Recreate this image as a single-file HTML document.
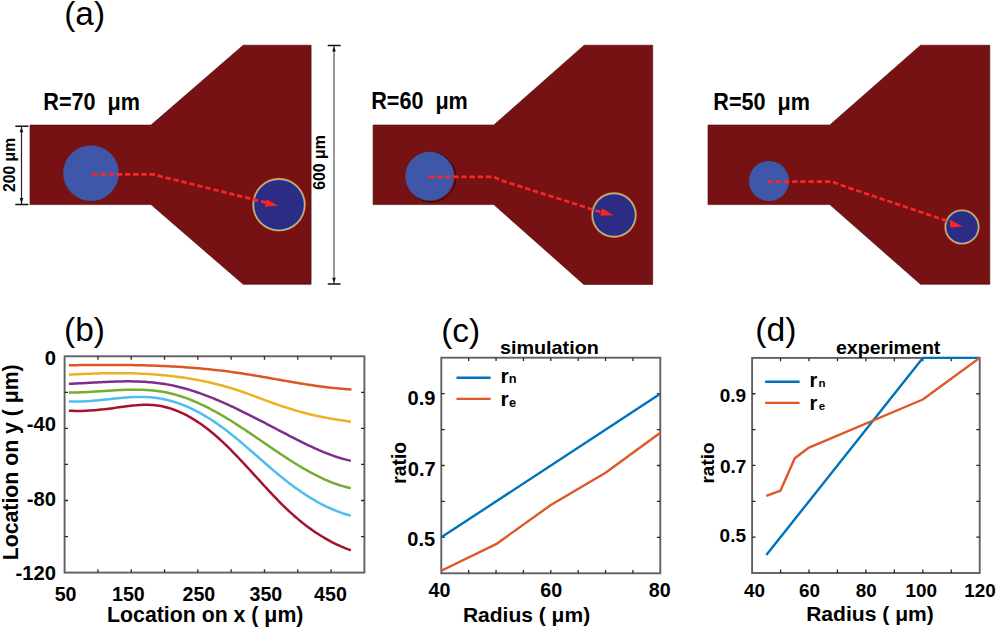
<!DOCTYPE html>
<html><head><meta charset="utf-8"><style>
html,body{margin:0;padding:0;background:#fff;overflow:hidden;width:998px;height:627px;}
svg{display:block;font-family:"Liberation Sans",sans-serif;}
</style></head><body>
<svg width="998" height="627" viewBox="0 0 998 627">
<rect width="998" height="627" fill="#fff"/>
<text x="64.20" y="25.20" font-size="33.4" font-weight="normal" fill="#000" >(a)</text>
<polygon points="30.0,125.1 151,125.1 243.2,45.2 311.1,45.2 311.1,284.3 243.2,284.3 151,204.6 30.0,204.6" fill="#761214" stroke="#4a0c0e" stroke-width="0.9" stroke-opacity="0.7"/>
<circle cx="91" cy="173.2" r="27.8" fill="#3e57a8"/>
<circle cx="279" cy="204.7" r="26.9" fill="#d8602c"/>
<circle cx="279" cy="204.7" r="26.2" fill="#e6c04a"/>
<circle cx="279" cy="204.7" r="25.5" fill="#62b8d8"/>
<circle cx="279" cy="204.7" r="24.8" fill="#2c2c84"/>
<path d="M92.20,174.40 L152.00,174.40 L156.00,174.80 L160.00,176.20 L267.00,202.80" fill="none" stroke="#ff2424" stroke-width="2.7" stroke-dasharray="5.3 2.9"/>
<polygon points="278.00,205.60 265.01,206.72 266.59,199.28" fill="#ff2424"/>
<polygon points="373.1,125.0 493.8,125.0 584.2,45.2 652.7,45.2 652.7,284.4 583.8,284.4 493.8,204.6 373.1,204.6" fill="#761214" stroke="#4a0c0e" stroke-width="0.9" stroke-opacity="0.7"/>
<circle cx="431.4" cy="177.4" r="24.5" fill="none" stroke="#1c0606" stroke-width="1" opacity="0.85"/>
<circle cx="429.6" cy="176.2" r="24.4" fill="#3e57a8"/>
<circle cx="614" cy="215" r="22.9" fill="#d8602c"/>
<circle cx="614" cy="215" r="22.2" fill="#e6c04a"/>
<circle cx="614" cy="215" r="21.5" fill="#62b8d8"/>
<circle cx="614" cy="215" r="20.8" fill="#2c2c84"/>
<path d="M428.60,176.80 L491.60,176.80 L495.20,177.60 L500.00,180.00 L601.00,212.20" fill="none" stroke="#ff2424" stroke-width="2.7" stroke-dasharray="5.3 2.9"/>
<polygon points="613.30,215.20 600.23,215.67 602.17,208.33" fill="#ff2424"/>
<polygon points="708.0,125.0 829.8,125.0 920.6,45.2 989.8,45.2 989.8,284.3 920.5,284.3 829.8,204.6 708.0,204.6" fill="#761214" stroke="#4a0c0e" stroke-width="0.9" stroke-opacity="0.7"/>
<circle cx="769" cy="181" r="20" fill="#3e57a8"/>
<circle cx="962" cy="227" r="17.8" fill="#d8602c"/>
<circle cx="962" cy="227" r="17.1" fill="#e6c04a"/>
<circle cx="962" cy="227" r="16.400000000000002" fill="#62b8d8"/>
<circle cx="962" cy="227" r="15.700000000000001" fill="#2c2c84"/>
<path d="M767.50,181.60 L830.00,181.60 L834.00,182.40 L838.50,184.30 L949.00,221.60" fill="none" stroke="#ff2424" stroke-width="2.7" stroke-dasharray="5.3 2.9"/>
<polygon points="962.50,226.60 949.80,219.60 950.30,227.40" fill="#ff2424"/>
<line x1="21.5" y1="125.8" x2="21.5" y2="204.6" stroke="#222" stroke-width="1.2"/>
<line x1="15.9" y1="126.2" x2="27.9" y2="126.2" stroke="#111" stroke-width="1.5" stroke-linecap="round"/>
<line x1="15.9" y1="204.4" x2="27.9" y2="204.4" stroke="#111" stroke-width="1.5" stroke-linecap="round"/>
<polygon points="21.5,127.0 19.7,132.3 23.3,132.3" fill="#111"/>
<polygon points="21.5,203.4 19.7,198.1 23.3,198.1" fill="#111"/>
<line x1="334" y1="45" x2="334" y2="284.3" stroke="#555" stroke-width="1.2"/>
<line x1="328.3" y1="45.4" x2="340.0" y2="45.4" stroke="#111" stroke-width="1.5" stroke-linecap="round"/>
<line x1="328.3" y1="284.1" x2="340.0" y2="284.1" stroke="#111" stroke-width="1.5" stroke-linecap="round"/>
<polygon points="334,46.2 332.2,51.5 335.8,51.5" fill="#111"/>
<polygon points="334,283.1 332.2,277.8 335.8,277.8" fill="#111"/>
<text transform="translate(14.70,191.95) rotate(-90)" x="0" y="0" font-size="15.7" font-weight="bold" fill="#000">200 μm</text>
<text transform="translate(325.40,189.86) rotate(-90)" x="0" y="0" font-size="15.9" font-weight="bold" fill="#000">600 μm</text>
<text transform="translate(43.30,109.70) scale(1,1.08)" x="0" y="0" font-size="21.6" font-weight="bold" fill="#000" style="white-space:pre">R=70  μm</text>
<text transform="translate(371.20,108.80) scale(1,1.08)" x="0" y="0" font-size="21.6" font-weight="bold" fill="#000" style="white-space:pre">R=60  μm</text>
<text transform="translate(713.30,109.70) scale(1,1.08)" x="0" y="0" font-size="21.6" font-weight="bold" fill="#000" style="white-space:pre">R=50  μm</text>
<text x="63.99" y="340.70" font-size="33.5" font-weight="normal" fill="#000" >(b)</text>
<path d="M68.9,365.27 L70.9,365.24 L72.9,365.20 L74.9,365.17 L76.9,365.14 L78.9,365.11 L80.9,365.08 L82.9,365.06 L84.9,365.03 L86.9,365.01 L88.9,364.99 L90.9,364.97 L92.9,364.95 L94.9,364.94 L96.9,364.92 L98.9,364.91 L100.9,364.90 L102.9,364.90 L104.9,364.89 L106.9,364.89 L108.9,364.89 L110.9,364.89 L112.9,364.90 L114.9,364.90 L116.9,364.91 L118.9,364.92 L120.9,364.94 L122.9,364.96 L124.9,364.98 L126.9,365.00 L128.9,365.03 L130.9,365.06 L132.9,365.09 L134.9,365.13 L136.9,365.17 L138.9,365.21 L140.9,365.26 L142.9,365.31 L144.9,365.36 L146.9,365.42 L148.9,365.48 L150.9,365.54 L152.9,365.61 L154.9,365.68 L156.9,365.76 L158.9,365.84 L160.9,365.92 L162.9,366.01 L164.9,366.10 L166.9,366.19 L168.9,366.29 L170.9,366.40 L172.9,366.51 L174.9,366.62 L176.9,366.74 L178.9,366.86 L180.9,366.99 L182.9,367.12 L184.9,367.26 L186.9,367.40 L188.9,367.55 L190.9,367.70 L192.9,367.85 L194.9,368.02 L196.9,368.18 L198.9,368.35 L200.9,368.53 L202.9,368.71 L204.9,368.90 L206.9,369.10 L208.9,369.30 L210.9,369.50 L212.9,369.71 L214.9,369.93 L216.9,370.15 L218.9,370.38 L220.9,370.61 L222.9,370.85 L224.9,371.10 L226.9,371.35 L228.9,371.61 L230.9,371.87 L232.9,372.14 L234.9,372.42 L236.9,372.70 L238.9,372.99 L240.9,373.29 L242.9,373.59 L244.9,373.90 L246.9,374.22 L248.9,374.54 L250.9,374.86 L252.9,375.19 L254.9,375.53 L256.9,375.86 L258.9,376.21 L260.9,376.55 L262.9,376.90 L264.9,377.25 L266.9,377.60 L268.9,377.95 L270.9,378.30 L272.9,378.66 L274.9,379.01 L276.9,379.37 L278.9,379.72 L280.9,380.08 L282.9,380.43 L284.9,380.78 L286.9,381.13 L288.9,381.48 L290.9,381.82 L292.9,382.16 L294.9,382.50 L296.9,382.84 L298.9,383.17 L300.9,383.50 L302.9,383.82 L304.9,384.14 L306.9,384.45 L308.9,384.76 L310.9,385.06 L312.9,385.36 L314.9,385.65 L316.9,385.93 L318.9,386.21 L320.9,386.48 L322.9,386.74 L324.9,386.99 L326.9,387.24 L328.9,387.48 L330.9,387.70 L332.9,387.92 L334.9,388.13 L336.9,388.33 L338.9,388.52 L340.9,388.70 L342.9,388.87 L344.9,389.03 L346.9,389.17 L348.9,389.31 L350.9,389.43 L351.5,389.47" fill="none" stroke="#DC5620" stroke-width="2.5" stroke-linejoin="round" stroke-linecap="butt"/>
<path d="M68.9,374.67 L70.9,374.56 L72.9,374.45 L74.9,374.35 L76.9,374.24 L78.9,374.15 L80.9,374.05 L82.9,373.96 L84.9,373.88 L86.9,373.80 L88.9,373.72 L90.9,373.65 L92.9,373.58 L94.9,373.51 L96.9,373.45 L98.9,373.40 L100.9,373.35 L102.9,373.30 L104.9,373.27 L106.9,373.23 L108.9,373.20 L110.9,373.18 L112.9,373.17 L114.9,373.16 L116.9,373.15 L118.9,373.16 L120.9,373.17 L122.9,373.18 L124.9,373.21 L126.9,373.24 L128.9,373.27 L130.9,373.32 L132.9,373.37 L134.9,373.43 L136.9,373.50 L138.9,373.57 L140.9,373.65 L142.9,373.75 L144.9,373.85 L146.9,373.95 L148.9,374.07 L150.9,374.20 L152.9,374.33 L154.9,374.47 L156.9,374.63 L158.9,374.79 L160.9,374.96 L162.9,375.14 L164.9,375.33 L166.9,375.53 L168.9,375.75 L170.9,375.97 L172.9,376.20 L174.9,376.44 L176.9,376.69 L178.9,376.96 L180.9,377.23 L182.9,377.52 L184.9,377.82 L186.9,378.13 L188.9,378.45 L190.9,378.78 L192.9,379.12 L194.9,379.48 L196.9,379.85 L198.9,380.23 L200.9,380.62 L202.9,381.03 L204.9,381.44 L206.9,381.88 L208.9,382.32 L210.9,382.78 L212.9,383.25 L214.9,383.73 L216.9,384.23 L218.9,384.74 L220.9,385.27 L222.9,385.81 L224.9,386.36 L226.9,386.93 L228.9,387.51 L230.9,388.11 L232.9,388.72 L234.9,389.35 L236.9,389.99 L238.9,390.65 L240.9,391.32 L242.9,392.01 L244.9,392.71 L246.9,393.43 L248.9,394.15 L250.9,394.88 L252.9,395.62 L254.9,396.36 L256.9,397.11 L258.9,397.86 L260.9,398.61 L262.9,399.35 L264.9,400.10 L266.9,400.84 L268.9,401.58 L270.9,402.30 L272.9,403.02 L274.9,403.73 L276.9,404.44 L278.9,405.13 L280.9,405.81 L282.9,406.48 L284.9,407.14 L286.9,407.79 L288.9,408.43 L290.9,409.05 L292.9,409.66 L294.9,410.26 L296.9,410.84 L298.9,411.40 L300.9,411.96 L302.9,412.49 L304.9,413.01 L306.9,413.52 L308.9,414.01 L310.9,414.49 L312.9,414.96 L314.9,415.41 L316.9,415.85 L318.9,416.28 L320.9,416.70 L322.9,417.10 L324.9,417.50 L326.9,417.88 L328.9,418.25 L330.9,418.61 L332.9,418.95 L334.9,419.29 L336.9,419.62 L338.9,419.94 L340.9,420.25 L342.9,420.55 L344.9,420.84 L346.9,421.13 L348.9,421.40 L350.9,421.67 L351.0,421.68" fill="none" stroke="#EDB120" stroke-width="2.5" stroke-linejoin="round" stroke-linecap="butt"/>
<path d="M68.9,383.83 L70.9,383.75 L72.9,383.66 L74.9,383.56 L76.9,383.47 L78.9,383.37 L80.9,383.26 L82.9,383.15 L84.9,383.04 L86.9,382.93 L88.9,382.82 L90.9,382.71 L92.9,382.60 L94.9,382.48 L96.9,382.38 L98.9,382.27 L100.9,382.16 L102.9,382.06 L104.9,381.97 L106.9,381.88 L108.9,381.79 L110.9,381.71 L112.9,381.63 L114.9,381.57 L116.9,381.51 L118.9,381.46 L120.9,381.42 L122.9,381.38 L124.9,381.36 L126.9,381.35 L128.9,381.35 L130.9,381.37 L132.9,381.39 L134.9,381.43 L136.9,381.48 L138.9,381.55 L140.9,381.63 L142.9,381.73 L144.9,381.85 L146.9,381.98 L148.9,382.13 L150.9,382.30 L152.9,382.49 L154.9,382.69 L156.9,382.92 L158.9,383.17 L160.9,383.44 L162.9,383.73 L164.9,384.04 L166.9,384.38 L168.9,384.74 L170.9,385.13 L172.9,385.54 L174.9,385.97 L176.9,386.43 L178.9,386.91 L180.9,387.42 L182.9,387.94 L184.9,388.49 L186.9,389.06 L188.9,389.65 L190.9,390.26 L192.9,390.89 L194.9,391.54 L196.9,392.20 L198.9,392.89 L200.9,393.60 L202.9,394.32 L204.9,395.06 L206.9,395.82 L208.9,396.59 L210.9,397.38 L212.9,398.18 L214.9,399.00 L216.9,399.83 L218.9,400.68 L220.9,401.54 L222.9,402.42 L224.9,403.30 L226.9,404.20 L228.9,405.12 L230.9,406.04 L232.9,406.97 L234.9,407.91 L236.9,408.87 L238.9,409.83 L240.9,410.80 L242.9,411.78 L244.9,412.77 L246.9,413.77 L248.9,414.77 L250.9,415.78 L252.9,416.79 L254.9,417.81 L256.9,418.84 L258.9,419.87 L260.9,420.90 L262.9,421.94 L264.9,422.98 L266.9,424.02 L268.9,425.07 L270.9,426.11 L272.9,427.16 L274.9,428.21 L276.9,429.26 L278.9,430.30 L280.9,431.35 L282.9,432.39 L284.9,433.44 L286.9,434.48 L288.9,435.52 L290.9,436.55 L292.9,437.58 L294.9,438.61 L296.9,439.62 L298.9,440.64 L300.9,441.64 L302.9,442.63 L304.9,443.62 L306.9,444.59 L308.9,445.55 L310.9,446.49 L312.9,447.42 L314.9,448.33 L316.9,449.23 L318.9,450.11 L320.9,450.97 L322.9,451.81 L324.9,452.62 L326.9,453.42 L328.9,454.19 L330.9,454.94 L332.9,455.66 L334.9,456.35 L336.9,457.02 L338.9,457.66 L340.9,458.27 L342.9,458.84 L344.9,459.39 L346.9,459.90 L348.9,460.37 L350.8,460.79" fill="none" stroke="#7E2F8E" stroke-width="2.5" stroke-linejoin="round" stroke-linecap="butt"/>
<path d="M68.9,392.60 L70.9,392.60 L72.9,392.58 L74.9,392.55 L76.9,392.51 L78.9,392.45 L80.9,392.37 L82.9,392.29 L84.9,392.20 L86.9,392.09 L88.9,391.98 L90.9,391.86 L92.9,391.74 L94.9,391.61 L96.9,391.48 L98.9,391.35 L100.9,391.21 L102.9,391.07 L104.9,390.93 L106.9,390.80 L108.9,390.67 L110.9,390.54 L112.9,390.41 L114.9,390.29 L116.9,390.18 L118.9,390.07 L120.9,389.98 L122.9,389.89 L124.9,389.81 L126.9,389.75 L128.9,389.70 L130.9,389.66 L132.9,389.64 L134.9,389.64 L136.9,389.65 L138.9,389.68 L140.9,389.73 L142.9,389.80 L144.9,389.89 L146.9,390.00 L148.9,390.14 L150.9,390.30 L152.9,390.48 L154.9,390.70 L156.9,390.94 L158.9,391.21 L160.9,391.50 L162.9,391.83 L164.9,392.20 L166.9,392.59 L168.9,393.02 L170.9,393.48 L172.9,393.98 L174.9,394.51 L176.9,395.08 L178.9,395.68 L180.9,396.31 L182.9,396.97 L184.9,397.67 L186.9,398.39 L188.9,399.15 L190.9,399.93 L192.9,400.74 L194.9,401.59 L196.9,402.45 L198.9,403.35 L200.9,404.27 L202.9,405.22 L204.9,406.19 L206.9,407.18 L208.9,408.20 L210.9,409.24 L212.9,410.31 L214.9,411.39 L216.9,412.50 L218.9,413.63 L220.9,414.77 L222.9,415.94 L224.9,417.12 L226.9,418.33 L228.9,419.55 L230.9,420.78 L232.9,422.04 L234.9,423.30 L236.9,424.58 L238.9,425.88 L240.9,427.18 L242.9,428.50 L244.9,429.82 L246.9,431.16 L248.9,432.50 L250.9,433.85 L252.9,435.20 L254.9,436.56 L256.9,437.93 L258.9,439.29 L260.9,440.66 L262.9,442.03 L264.9,443.40 L266.9,444.77 L268.9,446.14 L270.9,447.50 L272.9,448.86 L274.9,450.21 L276.9,451.56 L278.9,452.90 L280.9,454.23 L282.9,455.56 L284.9,456.87 L286.9,458.17 L288.9,459.47 L290.9,460.74 L292.9,462.01 L294.9,463.26 L296.9,464.49 L298.9,465.70 L300.9,466.90 L302.9,468.08 L304.9,469.24 L306.9,470.38 L308.9,471.50 L310.9,472.59 L312.9,473.66 L314.9,474.70 L316.9,475.72 L318.9,476.71 L320.9,477.68 L322.9,478.61 L324.9,479.52 L326.9,480.39 L328.9,481.24 L330.9,482.05 L332.9,482.82 L334.9,483.56 L336.9,484.27 L338.9,484.94 L340.9,485.57 L342.9,486.16 L344.9,486.72 L346.9,487.23 L348.9,487.70 L350.8,488.11" fill="none" stroke="#77AC30" stroke-width="2.5" stroke-linejoin="round" stroke-linecap="butt"/>
<path d="M68.9,401.33 L70.9,401.42 L72.9,401.49 L74.9,401.52 L76.9,401.53 L78.9,401.51 L80.9,401.47 L82.9,401.40 L84.9,401.31 L86.9,401.20 L88.9,401.07 L90.9,400.93 L92.9,400.77 L94.9,400.60 L96.9,400.42 L98.9,400.23 L100.9,400.03 L102.9,399.82 L104.9,399.61 L106.9,399.40 L108.9,399.18 L110.9,398.97 L112.9,398.76 L114.9,398.55 L116.9,398.34 L118.9,398.15 L120.9,397.96 L122.9,397.78 L124.9,397.62 L126.9,397.47 L128.9,397.33 L130.9,397.21 L132.9,397.11 L134.9,397.03 L136.9,396.98 L138.9,396.94 L140.9,396.94 L142.9,396.96 L144.9,397.00 L146.9,397.08 L148.9,397.19 L150.9,397.34 L152.9,397.52 L154.9,397.74 L156.9,397.99 L158.9,398.29 L160.9,398.63 L162.9,399.01 L164.9,399.42 L166.9,399.88 L168.9,400.38 L170.9,400.92 L172.9,401.49 L174.9,402.11 L176.9,402.76 L178.9,403.45 L180.9,404.18 L182.9,404.95 L184.9,405.75 L186.9,406.59 L188.9,407.47 L190.9,408.39 L192.9,409.34 L194.9,410.33 L196.9,411.36 L198.9,412.42 L200.9,413.51 L202.9,414.65 L204.9,415.81 L206.9,417.01 L208.9,418.25 L210.9,419.52 L212.9,420.82 L214.9,422.16 L216.9,423.53 L218.9,424.94 L220.9,426.38 L222.9,427.85 L224.9,429.35 L226.9,430.87 L228.9,432.43 L230.9,434.01 L232.9,435.61 L234.9,437.24 L236.9,438.89 L238.9,440.55 L240.9,442.23 L242.9,443.92 L244.9,445.63 L246.9,447.35 L248.9,449.08 L250.9,450.81 L252.9,452.55 L254.9,454.30 L256.9,456.05 L258.9,457.80 L260.9,459.54 L262.9,461.29 L264.9,463.03 L266.9,464.76 L268.9,466.49 L270.9,468.20 L272.9,469.91 L274.9,471.60 L276.9,473.27 L278.9,474.93 L280.9,476.57 L282.9,478.19 L284.9,479.79 L286.9,481.36 L288.9,482.91 L290.9,484.43 L292.9,485.93 L294.9,487.40 L296.9,488.84 L298.9,490.25 L300.9,491.63 L302.9,492.98 L304.9,494.31 L306.9,495.60 L308.9,496.87 L310.9,498.10 L312.9,499.30 L314.9,500.47 L316.9,501.61 L318.9,502.72 L320.9,503.79 L322.9,504.83 L324.9,505.84 L326.9,506.81 L328.9,507.75 L330.9,508.65 L332.9,509.52 L334.9,510.35 L336.9,511.15 L338.9,511.90 L340.9,512.63 L342.9,513.31 L344.9,513.96 L346.9,514.57 L348.9,515.14 L350.8,515.64" fill="none" stroke="#4DBEEE" stroke-width="2.5" stroke-linejoin="round" stroke-linecap="butt"/>
<path d="M68.9,410.66 L70.9,410.77 L72.9,410.86 L74.9,410.91 L76.9,410.94 L78.9,410.95 L80.9,410.93 L82.9,410.88 L84.9,410.81 L86.9,410.72 L88.9,410.61 L90.9,410.49 L92.9,410.34 L94.9,410.18 L96.9,410.00 L98.9,409.80 L100.9,409.60 L102.9,409.38 L104.9,409.15 L106.9,408.91 L108.9,408.66 L110.9,408.41 L112.9,408.15 L114.9,407.88 L116.9,407.61 L118.9,407.34 L120.9,407.06 L122.9,406.79 L124.9,406.53 L126.9,406.27 L128.9,406.02 L130.9,405.79 L132.9,405.58 L134.9,405.38 L136.9,405.21 L138.9,405.07 L140.9,404.95 L142.9,404.87 L144.9,404.82 L146.9,404.81 L148.9,404.85 L150.9,404.92 L152.9,405.05 L154.9,405.23 L156.9,405.45 L158.9,405.74 L160.9,406.08 L162.9,406.48 L164.9,406.94 L166.9,407.44 L168.9,408.01 L170.9,408.63 L172.9,409.30 L174.9,410.03 L176.9,410.80 L178.9,411.63 L180.9,412.52 L182.9,413.45 L184.9,414.44 L186.9,415.47 L188.9,416.56 L190.9,417.69 L192.9,418.87 L194.9,420.11 L196.9,421.39 L198.9,422.71 L200.9,424.09 L202.9,425.51 L204.9,426.98 L206.9,428.49 L208.9,430.05 L210.9,431.65 L212.9,433.30 L214.9,434.99 L216.9,436.72 L218.9,438.50 L220.9,440.32 L222.9,442.18 L224.9,444.08 L226.9,446.01 L228.9,447.98 L230.9,449.98 L232.9,452.01 L234.9,454.06 L236.9,456.14 L238.9,458.25 L240.9,460.37 L242.9,462.51 L244.9,464.66 L246.9,466.83 L248.9,469.00 L250.9,471.19 L252.9,473.38 L254.9,475.57 L256.9,477.77 L258.9,479.96 L260.9,482.15 L262.9,484.33 L264.9,486.50 L266.9,488.66 L268.9,490.81 L270.9,492.94 L272.9,495.06 L274.9,497.15 L276.9,499.22 L278.9,501.27 L280.9,503.29 L282.9,505.28 L284.9,507.23 L286.9,509.15 L288.9,511.04 L290.9,512.88 L292.9,514.69 L294.9,516.45 L296.9,518.17 L298.9,519.86 L300.9,521.50 L302.9,523.11 L304.9,524.67 L306.9,526.20 L308.9,527.68 L310.9,529.13 L312.9,530.54 L314.9,531.91 L316.9,533.25 L318.9,534.54 L320.9,535.80 L322.9,537.02 L324.9,538.20 L326.9,539.35 L328.9,540.46 L330.9,541.53 L332.9,542.57 L334.9,543.57 L336.9,544.54 L338.9,545.47 L340.9,546.36 L342.9,547.22 L344.9,548.04 L346.9,548.83 L348.9,549.59 L350.8,550.27" fill="none" stroke="#A2142F" stroke-width="2.5" stroke-linejoin="round" stroke-linecap="butt"/>
<rect x="64.6" y="356.3" width="299.79999999999995" height="216.3" fill="none" stroke="#606060" stroke-width="1.9"/>
<path d="M97.91,572.6V569.20M97.91,356.3V359.70M131.22,572.6V569.20M131.22,356.3V359.70M164.53,572.6V569.20M164.53,356.3V359.70M197.84,572.6V569.20M197.84,356.3V359.70M231.16,572.6V569.20M231.16,356.3V359.70M264.47,572.6V569.20M264.47,356.3V359.70M297.78,572.6V569.20M297.78,356.3V359.70M331.09,572.6V569.20M331.09,356.3V359.70M64.6,392.35H68.00M364.4,392.35H361.00M64.6,428.40H68.00M364.4,428.40H361.00M64.6,464.45H68.00M364.4,464.45H361.00M64.6,500.50H68.00M364.4,500.50H361.00M64.6,536.55H68.00M364.4,536.55H361.00" stroke="#2a2a2a" stroke-width="1.3" fill="none"/>
<text x="44.80" y="364.50" font-size="20.2" font-weight="bold" fill="#000" >0</text>
<text x="26.82" y="431.00" font-size="20.2" font-weight="bold" fill="#000" >-40</text>
<text x="26.82" y="506.00" font-size="20.2" font-weight="bold" fill="#000" >-80</text>
<text x="15.61" y="579.70" font-size="20.2" font-weight="bold" fill="#000" >-120</text>
<text x="54.71" y="600.90" font-size="19.6" font-weight="bold" fill="#000" >50</text>
<text x="112.03" y="600.90" font-size="19.6" font-weight="bold" fill="#000" >150</text>
<text x="182.51" y="600.90" font-size="19.6" font-weight="bold" fill="#000" >250</text>
<text x="249.51" y="600.90" font-size="19.6" font-weight="bold" fill="#000" >350</text>
<text x="314.11" y="600.90" font-size="19.6" font-weight="bold" fill="#000" >450</text>
<text x="107.02" y="621.60" font-size="21.3" font-weight="bold" fill="#000" >Location on x ( μm)</text>
<text transform="translate(17.60,560.28) rotate(-90)" x="0" y="0" font-size="21.25" font-weight="bold" fill="#000">Location on y ( μm)</text>
<text x="441.19" y="341.50" font-size="33.5" font-weight="normal" fill="#000" >(c)</text>
<rect x="441.3" y="357.7" width="218.99999999999994" height="215.59999999999997" fill="none" stroke="#606060" stroke-width="1.9"/>
<path d="M468.68,573.3V569.90M468.68,357.7V361.10M496.05,573.3V569.90M496.05,357.7V361.10M523.42,573.3V569.90M523.42,357.7V361.10M550.80,573.3V569.90M550.80,357.7V361.10M578.17,573.3V569.90M578.17,357.7V361.10M605.55,573.3V569.90M605.55,357.7V361.10M632.92,573.3V569.90M632.92,357.7V361.10M441.3,537.37H444.70M660.3,537.37H656.90M441.3,501.43H444.70M660.3,501.43H656.90M441.3,465.50H444.70M660.3,465.50H656.90M441.3,429.57H444.70M660.3,429.57H656.90M441.3,393.63H444.70M660.3,393.63H656.90" stroke="#2a2a2a" stroke-width="1.3" fill="none"/>
<polyline points="441.30,537.37 660.30,393.63" fill="none" stroke="#0072BD" stroke-width="2.4"/>
<polyline points="441.30,570.78 496.05,544.19 550.80,505.03 605.55,472.69 660.30,432.80" fill="none" stroke="#DE5726" stroke-width="2.4" stroke-linejoin="round"/>
<text transform="translate(499.91,354.00) scale(1,0.93)" x="0" y="0" font-size="19.8" font-weight="bold" fill="#000" >simulation</text>
<text x="407.56" y="404.80" font-size="20.1" font-weight="bold" fill="#000" >0.9</text>
<text x="407.77" y="476.20" font-size="20.1" font-weight="bold" fill="#000" >0.7</text>
<text x="407.36" y="545.60" font-size="20.1" font-weight="bold" fill="#000" >0.5</text>
<text x="428.50" y="597.20" font-size="19.7" font-weight="bold" fill="#000" >40</text>
<text x="540.31" y="597.20" font-size="19.7" font-weight="bold" fill="#000" >60</text>
<text x="648.81" y="597.20" font-size="19.7" font-weight="bold" fill="#000" >80</text>
<text x="462.94" y="621.80" font-size="21.0" font-weight="bold" fill="#000" >Radius ( μm)</text>
<text transform="translate(406.20,483.75) rotate(-90)" x="0" y="0" font-size="19.3" font-weight="bold" fill="#000">ratio</text>
<line x1="456.5" y1="377.8" x2="490.6" y2="377.8" stroke="#0072BD" stroke-width="2.4"/>
<line x1="456.5" y1="398.9" x2="490.6" y2="398.9" stroke="#DE5726" stroke-width="2.4"/>
<text x="500.44" y="383.00" font-size="21" font-weight="bold" fill="#000" >r</text>
<text x="508.77" y="383.20" font-size="12.8" font-weight="bold" fill="#000" >n</text>
<text x="500.44" y="406.10" font-size="21" font-weight="bold" fill="#000" >r</text>
<text x="509.09" y="406.60" font-size="12.8" font-weight="bold" fill="#000" >e</text>
<text x="755.18" y="341.30" font-size="33.7" font-weight="normal" fill="#000" >(d)</text>
<rect x="752.1" y="357.9" width="227.60000000000002" height="215.10000000000002" fill="none" stroke="#606060" stroke-width="1.9"/>
<path d="M780.55,573.0V569.60M780.55,357.9V361.30M809.00,573.0V569.60M809.00,357.9V361.30M837.45,573.0V569.60M837.45,357.9V361.30M865.90,573.0V569.60M865.90,357.9V361.30M894.35,573.0V569.60M894.35,357.9V361.30M922.80,573.0V569.60M922.80,357.9V361.30M951.25,573.0V569.60M951.25,357.9V361.30M752.1,537.15H755.50M979.7,537.15H976.30M752.1,501.30H755.50M979.7,501.30H976.30M752.1,465.45H755.50M979.7,465.45H976.30M752.1,429.60H755.50M979.7,429.60H976.30M752.1,393.75H755.50M979.7,393.75H976.30" stroke="#2a2a2a" stroke-width="1.3" fill="none"/>
<polyline points="766.33,555.08 922.80,357.90 979.70,357.90" fill="none" stroke="#0072BD" stroke-width="2.4" stroke-linejoin="round"/>
<polyline points="766.33,495.92 780.55,490.55 794.77,458.28 809.00,447.52 922.80,399.49 979.70,357.90" fill="none" stroke="#DE5726" stroke-width="2.4" stroke-linejoin="round"/>
<text transform="translate(835.92,353.60) scale(1,0.93)" x="0" y="0" font-size="19.6" font-weight="bold" fill="#000" >experiment</text>
<text x="719.75" y="401.60" font-size="19.0" font-weight="bold" fill="#000" >0.9</text>
<text x="719.95" y="472.50" font-size="19.0" font-weight="bold" fill="#000" >0.7</text>
<text x="719.57" y="541.80" font-size="19.0" font-weight="bold" fill="#000" >0.5</text>
<text x="743.92" y="596.90" font-size="18.9" font-weight="bold" fill="#000" >40</text>
<text x="798.94" y="596.90" font-size="18.9" font-weight="bold" fill="#000" >60</text>
<text x="855.63" y="596.90" font-size="18.9" font-weight="bold" fill="#000" >80</text>
<text x="905.57" y="596.90" font-size="18.9" font-weight="bold" fill="#000" >100</text>
<text x="964.37" y="596.90" font-size="18.9" font-weight="bold" fill="#000" >120</text>
<text x="806.13" y="621.10" font-size="21.1" font-weight="bold" fill="#000" >Radius ( μm)</text>
<text transform="translate(714.30,483.54) rotate(-90)" x="0" y="0" font-size="19.0" font-weight="bold" fill="#000">ratio</text>
<line x1="765.1" y1="381.7" x2="799.6" y2="381.7" stroke="#0072BD" stroke-width="2.4"/>
<line x1="765.1" y1="402.9" x2="799.6" y2="402.9" stroke="#DE5726" stroke-width="2.4"/>
<text x="809.60" y="387.10" font-size="20" font-weight="bold" fill="#000" >r</text>
<text x="818.45" y="387.10" font-size="11.5" font-weight="bold" fill="#000" >n</text>
<text x="809.60" y="410.10" font-size="20" font-weight="bold" fill="#000" >r</text>
<text x="818.74" y="410.10" font-size="11.5" font-weight="bold" fill="#000" >e</text>
</svg></body></html>
